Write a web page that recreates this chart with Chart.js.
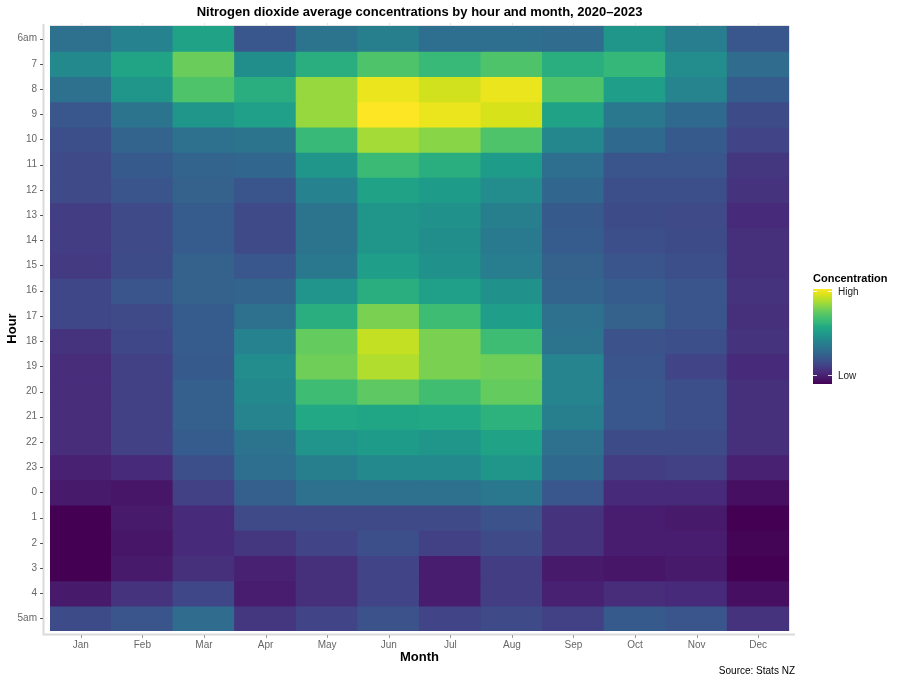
<!DOCTYPE html>
<html>
<head>
<meta charset="utf-8">
<script src="https://cdn.jsdelivr.net/npm/chart.js@4.4.0/dist/chart.umd.min.js"></script>
<style>
    html, body { margin: 0; padding: 0; background: #fff; }
    #wrap { width: 900px; height: 683px; }
</style>
</head>
<body>
<div id="wrap"><canvas id="heat"></canvas></div>
<script>
// Categories
const months = ['Jan', 'Feb', 'Mar', 'Apr', 'May', 'Jun', 'Jul', 'Aug', 'Sep', 'Oct', 'Nov', 'Dec'];
const hours = ['6am', '7', '8', '9', '10', '11', '12', '13', '14', '15', '16', '17',
               '18', '19', '20', '21', '22', '23', '0', '1', '2', '3', '4', '5am'];

// Relative concentration (0 = lowest, 100 = highest), one value per hour, 6am first
const jan = [37, 47, 37, 27, 24, 22, 22, 18, 18, 17, 21, 21, 15, 13, 13, 13, 13, 9, 7, 0, 0, 0, 7, 23];
const feb = [44, 58, 52, 38, 32, 28, 26, 22, 22, 23, 26, 22, 21, 19, 19, 19, 19, 12, 6, 7, 6, 7, 15, 26];
const mar = [57, 77, 72, 52, 37, 32, 31, 29, 29, 31, 31, 29, 29, 28, 30, 30, 29, 24, 19, 12, 12, 14, 21, 35];
const apr = [27, 49, 62, 56, 38, 33, 26, 22, 22, 27, 32, 37, 44, 48, 47, 45, 38, 36, 30, 22, 16, 9, 8, 16];
const may = [38, 62, 84, 84, 66, 52, 44, 38, 38, 40, 51, 62, 76, 78, 68, 60, 51, 43, 37, 22, 20, 14, 14, 20];
const jun = [43, 72, 97, 100, 86, 67, 57, 52, 52, 55, 62, 80, 91, 88, 75, 59, 54, 47, 37, 22, 24, 20, 20, 25];
const jul = [36, 66, 93, 97, 82, 62, 54, 50, 49, 50, 56, 68, 80, 80, 69, 60, 52, 47, 37, 22, 19, 8, 8, 20];
const aug = [36, 72, 97, 94, 72, 54, 48, 43, 41, 42, 50, 55, 68, 78, 76, 63, 57, 52, 40, 25, 22, 18, 18, 22];
const sep = [35, 62, 72, 57, 46, 36, 33, 28, 29, 31, 32, 37, 38, 45, 45, 43, 37, 34, 27, 15, 15, 7, 9, 19];
const oct = [52, 65, 55, 40, 34, 26, 24, 23, 24, 26, 29, 31, 25, 26, 27, 27, 23, 18, 12, 8, 8, 6, 13, 28];
const nov = [42, 48, 45, 34, 28, 26, 24, 22, 23, 24, 26, 26, 24, 20, 24, 24, 23, 19, 12, 7, 8, 7, 12, 26];
const dec = [27, 35, 29, 23, 20, 16, 15, 12, 14, 14, 15, 14, 15, 12, 14, 14, 14, 9, 4, 0, 1, 0, 4, 15];
const byMonth = [jan, feb, mar, apr, may, jun, jul, aug, sep, oct, nov, dec];

// Legend tick labels
const legendLabels = ['High', 'Low'];

// viridis colour ramp
const viridisStops = ['#440154', '#471365', '#482475', '#46337e', '#414487', '#3b528b', '#355f8d', '#2f6c8e',
                      '#2a788e', '#25848e', '#21918c', '#1f9e89', '#22a884', '#35b779', '#44bf70', '#5ec962',
                      '#7ad151', '#9fda3a', '#bddf26', '#dfe318', '#fde725'];

function hexToRgb(h) {
    return [parseInt(h.slice(1, 3), 16), parseInt(h.slice(3, 5), 16), parseInt(h.slice(5, 7), 16)];
}

function viridis(t) {
    t = Math.max(0, Math.min(1, t));
    const pos = t * (viridisStops.length - 1);
    const i = Math.min(Math.floor(pos), viridisStops.length - 2);
    const f = pos - i;
    const a = hexToRgb(viridisStops[i]);
    const b = hexToRgb(viridisStops[i + 1]);
    const c = a.map((v, k) => Math.round(v + (b[k] - v) * f));
    return `rgb(${c[0]}, ${c[1]}, ${c[2]})`;
}

// One floating-bar dataset per hour; each bar spans one row of the y scale
const datasets = hours.map((h, i) => ({
    label: h,
    data: months.map(() => [i, i + 1]),
    backgroundColor: byMonth.map(m => viridis(m[i] / 100)),
    borderWidth: 0,
    inflateAmount: 0.6,
    barPercentage: 1,
    categoryPercentage: 1,
    grouped: false
}));

const font = "'Liberation Sans', Arial, sans-serif";

// Axis lines, tick marks, titles and colour bar legend
const decorations = {
    id: 'decorations',
    afterDraw(chart) {
        const { ctx, chartArea: area, scales } = chart;
        const x = scales.x, y = scales.y;
        ctx.save();

        // faint panel edges top and right
        ctx.strokeStyle = '#e4e4e4';
        ctx.lineWidth = 1;
        ctx.beginPath();
        ctx.moveTo(area.left, area.top - 0.5);
        ctx.lineTo(area.right + 0.5, area.top - 0.5);
        ctx.lineTo(area.right + 0.5, area.bottom);
        ctx.stroke();
        months.forEach((m, j) => {
            const px = Math.round(x.getPixelForValue(j)) + 0.5;
            ctx.beginPath();
            ctx.moveTo(px, area.top - 3);
            ctx.lineTo(px, area.top);
            ctx.stroke();
        });

        // axis lines
        ctx.strokeStyle = '#dadada';
        ctx.lineWidth = 2;
        ctx.beginPath();
        ctx.moveTo(area.left - 6.5, area.top - 2);
        ctx.lineTo(area.left - 6.5, area.bottom + 3.5);
        ctx.lineTo(area.right + 6, area.bottom + 3.5);
        ctx.stroke();

        // tick marks
        ctx.strokeStyle = '#9a9a9a';
        ctx.lineWidth = 1;
        months.forEach((m, j) => {
            const px = Math.round(x.getPixelForValue(j)) + 0.5;
            ctx.beginPath();
            ctx.moveTo(px, area.bottom + 4);
            ctx.lineTo(px, area.bottom + 7);
            ctx.stroke();
        });
        ctx.strokeStyle = '#555';
        hours.forEach((h, i) => {
            const py = Math.round(y.getPixelForValue(i + 0.5)) + 0.5;
            ctx.beginPath();
            ctx.moveTo(area.left - 10, py);
            ctx.lineTo(area.left - 7, py);
            ctx.stroke();
        });

        // title
        ctx.fillStyle = '#000';
        ctx.textAlign = 'center';
        ctx.textBaseline = 'middle';
        ctx.font = `bold 13px ${font}`;
        const midX = (area.left - 6 + area.right + 6) / 2;
        ctx.fillText('Nitrogen dioxide average concentrations by hour and month, 2020\u20132023', midX, 12);

        // axis titles
        ctx.fillText('Month', midX, 657);
        ctx.save();
        ctx.translate(12, (area.top + area.bottom) / 2);
        ctx.rotate(-Math.PI / 2);
        ctx.fillText('Hour', 0, 0);
        ctx.restore();

        // caption
        ctx.font = `10px ${font}`;
        ctx.textAlign = 'right';
        ctx.fillText('Source: Stats NZ', area.right + 6, 671);

        // legend colour bar
        const lx = 813, lw = 19, ly = 289, lh = 95;
        ctx.textAlign = 'left';
        ctx.font = `bold 11px ${font}`;
        ctx.fillText('Concentration', lx, 279);
        const grad = ctx.createLinearGradient(0, ly, 0, ly + lh);
        viridisStops.forEach((c, k) => grad.addColorStop(1 - k / (viridisStops.length - 1), c));
        ctx.fillStyle = grad;
        ctx.fillRect(lx, ly, lw, lh);
        const labelY = [ly + 2, ly + 86];
        ctx.strokeStyle = 'rgba(255,255,255,0.85)';
        ctx.lineWidth = 1;
        labelY.forEach(py => {
            ctx.beginPath();
            ctx.moveTo(lx, py + 0.5);
            ctx.lineTo(lx + 4, py + 0.5);
            ctx.moveTo(lx + lw - 4, py + 0.5);
            ctx.lineTo(lx + lw, py + 0.5);
            ctx.stroke();
        });
        ctx.fillStyle = '#222';
        ctx.font = `10px ${font}`;
        legendLabels.forEach((t, k) => ctx.fillText(t, lx + lw + 6, labelY[k] + 1));

        ctx.restore();
    }
};

new Chart(document.getElementById('heat'), {
    type: 'bar',
    data: { labels: months, datasets: datasets },
    options: {
        responsive: true,
        maintainAspectRatio: false,
        animation: false,
        layout: { padding: { left: 0, top: 26, right: 111, bottom: 0 } },
        plugins: {
            legend: { display: false },
            tooltip: { enabled: false }
        },
        scales: {
            x: {
                type: 'category',
                offset: true,
                grid: { display: false },
                border: { display: false },
                ticks: { color: '#666', font: { family: font, size: 10 }, padding: 0 },
                afterFit: scale => { scale.height = 52; }
            },
            y: {
                type: 'linear',
                min: 0,
                max: hours.length,
                reverse: true,
                grid: { display: false },
                border: { display: false },
                afterBuildTicks: scale => {
                    scale.ticks = hours.map((h, i) => ({ value: i + 0.5 }));
                },
                ticks: {
                    autoSkip: false,
                    color: '#666',
                    font: { family: font, size: 10 },
                    padding: 5,
                    callback: v => hours[Math.round(v - 0.5)]
                },
                afterFit: scale => { scale.width = 50; }
            }
        }
    },
    plugins: [decorations]
});
</script>
</body>
</html>
